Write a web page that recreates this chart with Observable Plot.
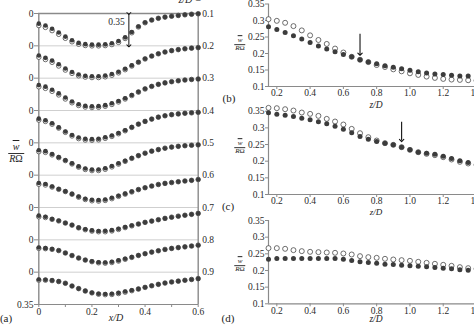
<!DOCTYPE html>
<html><head><meta charset="utf-8">
<script src="https://cdn.jsdelivr.net/npm/d3@7"></script>
<script src="https://cdn.jsdelivr.net/npm/@observablehq/plot@0.6"></script>
<style>
body{margin:0;overflow:hidden;background:#fff;}
#root{position:relative;width:474px;height:325px;overflow:hidden;font-family:"Liberation Serif",serif;color:#222;background:#fff;}
.pane{position:absolute;}
.pane svg, .pane svg text{font-family:"Liberation Serif",serif !important;}
.t{position:absolute;transform:translate(-50%,-50%);white-space:nowrap;line-height:1;}
.frac{position:absolute;transform:translate(-50%,-50%);text-align:center;line-height:1.05;}
.frac .num{font-style:italic;text-decoration:overline;}
.frac .den{border-top:0.8px solid #333;padding:0 1px;}
</style></head><body><div id="root"></div>
<script>
// ---------- Panel (a) data ----------
const aX = [0,0.025,0.05,0.075,0.1,0.125,0.15,0.175,0.2,0.225,0.25,0.275,0.3,0.325,0.35,0.375,0.4,0.425,0.45,0.475,0.5,0.525,0.55,0.575,0.6];
const aSpacing = 0.35;
const zLabels = ["0.1","0.2","0.3","0.4","0.5","0.6","0.7","0.8","0.9"];
const aYTickLabels = ["0","0","0","0","0","0","0","0","0","0.35"];
const aXTicks = [0,0.1,0.2,0.3,0.4,0.5,0.6];
const aXTickLabels = ["0","","0.2","","0.4","","0.6"];

const p1S = [0.11,0.13,0.165,0.205,0.25,0.29,0.318,0.332,0.337,0.337,0.334,0.322,0.297,0.258,0.2,0.14,0.098,0.07,0.052,0.039,0.029,0.021,0.014,0.008,0.003];
const p1O = [0.13,0.15,0.185,0.225,0.268,0.306,0.332,0.346,0.35,0.35,0.347,0.336,0.312,0.27,0.208,0.145,0.1,0.071,0.052,0.039,0.029,0.021,0.014,0.008,0.003];
const p2S = [0.105,0.13,0.16,0.2,0.245,0.283,0.31,0.325,0.33,0.33,0.322,0.305,0.28,0.248,0.212,0.175,0.14,0.11,0.086,0.067,0.052,0.041,0.032,0.025,0.019];
const p2O = [0.123,0.148,0.178,0.218,0.262,0.298,0.324,0.338,0.343,0.343,0.335,0.318,0.292,0.258,0.218,0.178,0.142,0.111,0.086,0.067,0.052,0.041,0.032,0.025,0.019];
const p3S = [0.075,0.092,0.125,0.165,0.21,0.253,0.283,0.3,0.305,0.303,0.292,0.272,0.247,0.217,0.183,0.148,0.115,0.088,0.067,0.051,0.038,0.028,0.02,0.014,0.009];
const p3O = [0.093,0.11,0.142,0.181,0.225,0.266,0.295,0.312,0.317,0.315,0.304,0.284,0.257,0.225,0.188,0.151,0.117,0.089,0.067,0.051,0.038,0.028,0.02,0.014,0.009];
const p4S = [0.088,0.105,0.138,0.183,0.228,0.265,0.293,0.307,0.31,0.305,0.29,0.27,0.243,0.213,0.18,0.147,0.118,0.093,0.072,0.057,0.045,0.037,0.03,0.025,0.02];
const p4O = [0.103,0.118,0.148,0.19,0.236,0.275,0.304,0.319,0.322,0.317,0.301,0.28,0.251,0.219,0.183,0.148,0.118,0.093,0.072,0.057,0.045,0.037,0.03,0.025,0.02];
const p5S = [0.08,0.09,0.122,0.155,0.188,0.222,0.255,0.278,0.29,0.288,0.275,0.25,0.222,0.195,0.165,0.138,0.112,0.09,0.073,0.058,0.046,0.038,0.031,0.026,0.022];
const p5O = [0.095,0.103,0.13,0.16,0.192,0.228,0.263,0.288,0.3,0.299,0.286,0.26,0.23,0.2,0.168,0.139,0.112,0.09,0.073,0.058,0.046,0.038,0.031,0.026,0.022];
const p6S = [0.085,0.095,0.122,0.15,0.175,0.203,0.232,0.255,0.267,0.27,0.263,0.245,0.222,0.2,0.178,0.155,0.136,0.118,0.101,0.089,0.08,0.071,0.063,0.056,0.047];
const p6O = [0.098,0.106,0.128,0.153,0.177,0.206,0.238,0.263,0.277,0.28,0.273,0.254,0.229,0.205,0.181,0.156,0.136,0.118,0.101,0.089,0.08,0.071,0.063,0.056,0.047];
const p7S = [0.088,0.1,0.124,0.143,0.167,0.19,0.218,0.236,0.248,0.254,0.253,0.245,0.23,0.212,0.195,0.178,0.161,0.147,0.132,0.118,0.105,0.094,0.084,0.074,0.064];
const p7O = [0.1,0.108,0.128,0.145,0.168,0.191,0.22,0.24,0.255,0.262,0.262,0.253,0.237,0.217,0.198,0.179,0.161,0.147,0.132,0.118,0.105,0.094,0.084,0.074,0.064];
const p8S = [0.083,0.09,0.1,0.115,0.142,0.17,0.197,0.218,0.233,0.243,0.245,0.237,0.222,0.205,0.187,0.168,0.15,0.133,0.118,0.104,0.093,0.084,0.076,0.067,0.058];
const p8O = [0.092,0.095,0.103,0.116,0.142,0.17,0.197,0.219,0.236,0.248,0.252,0.245,0.229,0.21,0.19,0.169,0.15,0.133,0.118,0.104,0.093,0.084,0.076,0.067,0.058];
const p9S = [0.079,0.082,0.089,0.1,0.12,0.15,0.178,0.203,0.222,0.234,0.237,0.234,0.224,0.21,0.196,0.181,0.164,0.147,0.132,0.118,0.106,0.097,0.088,0.079,0.07];
const p9O = [0.086,0.086,0.091,0.101,0.12,0.15,0.178,0.204,0.224,0.238,0.243,0.241,0.231,0.216,0.2,0.183,0.165,0.147,0.132,0.118,0.106,0.097,0.088,0.079,0.07];

const aSpanNote = [{x:0.339, y1:0, y2:0.35, label:"0.35", ly:0.094}];

// ---------- Panels (b)-(d) data ----------
const zX = [0.15,0.2,0.25,0.3,0.35,0.4,0.45,0.5,0.55,0.6,0.65,0.7,0.75,0.8,0.85,0.9,0.95,1.0,1.05,1.1,1.15,1.2,1.25,1.3,1.35,1.4];
const zXTicks = [0.2,0.4,0.6,0.8,1.0,1.2,1.4];
const zXTickLabels = ["0.2","0.4","0.6","0.8","1.0","1.2","1.4"];
const zYTicks = [0.1,0.15,0.2,0.25,0.3,0.35];
const zYTickLabels = ["0.1","0.15","0.2","0.25","0.3","0.35"];

const bS = [0.281,0.273,0.264,0.254,0.244,0.233,0.223,0.214,0.205,0.197,0.19,0.181,0.174,0.169,0.163,0.158,0.154,0.149,0.145,0.141,0.138,0.136,0.134,0.132,0.132,0.131];
const bO = [0.304,0.299,0.293,0.283,0.27,0.255,0.241,0.229,0.215,0.203,0.19,0.181,0.174,0.165,0.159,0.152,0.146,0.14,0.135,0.13,0.126,0.123,0.121,0.12,0.119,0.118];
const cS = [0.345,0.341,0.338,0.334,0.329,0.324,0.318,0.312,0.305,0.296,0.285,0.274,0.266,0.259,0.254,0.249,0.242,0.234,0.227,0.224,0.221,0.215,0.208,0.201,0.196,0.192];
const cO = [0.36,0.359,0.356,0.352,0.346,0.342,0.336,0.327,0.319,0.31,0.297,0.284,0.272,0.262,0.254,0.249,0.242,0.234,0.227,0.222,0.218,0.212,0.205,0.198,0.193,0.189];
const dS = [0.234,0.236,0.236,0.236,0.236,0.236,0.236,0.236,0.236,0.234,0.23,0.226,0.224,0.222,0.219,0.218,0.216,0.214,0.213,0.211,0.209,0.207,0.205,0.202,0.201,0.199];
const dO = [0.267,0.267,0.265,0.261,0.258,0.256,0.255,0.254,0.253,0.251,0.248,0.243,0.24,0.238,0.235,0.233,0.231,0.229,0.226,0.223,0.22,0.217,0.214,0.21,0.207,0.205];

const bArrow = [{x:0.7, y1:0.26, y2:0.198}];
const cArrow = [{x:0.95, y1:0.318, y2:0.262}];

// ---------- build ----------
const root = document.getElementById("root");
const SOLID = "#3c3c3c", OPENSTROKE = "#4a4a4a", AXIS = "#8a8a8a", TXT = "#2a2a2a";
const FONT = '"Liberation Serif", serif';
const STYLE = 'font-family: "Liberation Serif", serif; font-size: 9.5px; background: transparent; overflow: visible; color: #2a2a2a;';

function pane(left, top, w, h, node) {
  const d = document.createElement("div");
  d.className = "pane";
  d.style.left = left + "px"; d.style.top = top + "px";
  d.style.width = w + "px"; d.style.height = h + "px";
  d.appendChild(node);
  root.appendChild(d);
}
function label(text, x, y, size, italic) {
  const d = document.createElement("div");
  d.className = "t";
  d.style.left = x + "px"; d.style.top = y + "px";
  d.style.fontSize = size + "px";
  if (italic) d.style.fontStyle = "italic";
  d.textContent = text;
  root.appendChild(d);
}
function frac(x, y, size) {
  const d = document.createElement("div");
  d.className = "frac";
  d.style.left = x + "px"; d.style.top = y + "px";
  d.style.fontSize = size + "px";
  const n = document.createElement("div"); n.className = "num"; n.textContent = "w";
  const m = document.createElement("div"); m.className = "den";
  const r = document.createElement("i"); r.textContent = "R";
  const o = document.createElement("span"); o.textContent = "Ω";
  m.appendChild(r); m.appendChild(o);
  d.appendChild(n); d.appendChild(m);
  root.appendChild(d);
}

// Panel (a)
const profilesS = [p1S,p2S,p3S,p4S,p5S,p6S,p7S,p8S,p9S];
const profilesO = [p1O,p2O,p3O,p4O,p5O,p6O,p7O,p8O,p9O];
const aSolidRows = [], aOpenRows = [];
profilesS.forEach((arr,k) => arr.forEach((v,i) => aSolidRows.push({x:aX[i], y:k*aSpacing + v})));
profilesO.forEach((arr,k) => arr.forEach((v,i) => aOpenRows.push({x:aX[i], y:k*aSpacing + v})));
const aLevels = zLabels.map((l,k) => ({y:k*aSpacing, label:l}));
const aTicks = aYTickLabels.map((l,k) => k*aSpacing);
const aBottom = aTicks[aTicks.length-1];

const plotA = Plot.plot({
  width: 240, height: 325,
  marginLeft: 38, marginRight: 42, marginTop: 13, marginBottom: 21,
  x: {domain: [0, 0.6], range: [38.3, 197.7]},
  y: {domain: [0, aBottom], range: [13, 304]},
  style: STYLE,
  marks: [
    Plot.ruleY(aLevels.slice(1), {y: "y", stroke: "#cfcfcf", strokeWidth: 1}),
    Plot.ruleY([0], {stroke: AXIS, strokeWidth: 1.4}),
    Plot.ruleY([aBottom], {stroke: AXIS, strokeWidth: 1.2}),
    Plot.ruleX([0, 0.6], {stroke: AXIS, strokeWidth: 1.4}),
    Plot.axisY({ticks: aTicks, tickFormat: d => aYTickLabels[Math.round(d / aSpacing)], tickSize: 4, tickPadding: 1, label: null, stroke: AXIS, fontFamily: FONT}),
    Plot.axisX({ticks: aXTicks, tickFormat: d => aXTickLabels[Math.round(d * 10)], tickSize: 3, tickPadding: 1, label: null, stroke: AXIS, fontFamily: FONT}),
    Plot.dot(aOpenRows, {x: "x", y: "y", r: 2.3, fill: "white", stroke: OPENSTROKE, strokeWidth: 0.8}),
    Plot.dot(aSolidRows, {x: "x", y: "y", r: 2.3, fill: SOLID}),
    Plot.text(aLevels, {x: () => 0.6, y: "y", text: "label", dx: 4, textAnchor: "start", fill: TXT, fontFamily: FONT}),
    Plot.link(aSpanNote, {x1: "x", x2: "x", y1: "y1", y2: "y2", stroke: "#111", strokeWidth: 1, markerStart: "arrow", markerEnd: "arrow"}),
    Plot.text(aSpanNote, {x: "x", y: "ly", text: "label", dx: -4, textAnchor: "end", fill: TXT, fontFamily: FONT})
  ]
});
pane(0, 0, 240, 325, plotA);

// Panels (b)-(d)
function sidePlot(solid, open, arrow, height, yTop, yBot) {
  const sRows = solid.map((v,i) => ({x: zX[i], y: v}));
  const oRows = open.map((v,i) => ({x: zX[i], y: v}));
  const marks = [
    Plot.ruleX([0.15], {y1: 0.1, y2: 0.35, stroke: AXIS, strokeWidth: 1.2}),
    Plot.ruleY([0.1], {x1: 0.15, x2: 1.4, stroke: AXIS, strokeWidth: 1.2}),
    Plot.axisY({ticks: zYTicks, tickFormat: d => zYTickLabels[Math.round((d - 0.1) * 20)], tickSize: 3, tickPadding: 1, label: null, stroke: AXIS, fontFamily: FONT}),
    Plot.axisX({ticks: zXTicks, tickFormat: d => zXTickLabels[Math.round((d - 0.2) * 5)], tickSize: 3, tickPadding: 0, label: null, stroke: AXIS, fontFamily: FONT}),
    Plot.dot(oRows, {x: "x", y: "y", r: 2.5, fill: "white", stroke: OPENSTROKE, strokeWidth: 0.8}),
    Plot.dot(sRows, {x: "x", y: "y", r: 2.5, fill: SOLID})
  ];
  if (arrow) marks.push(Plot.link(arrow, {x1: "x", x2: "x", y1: "y1", y2: "y2", stroke: "#111", strokeWidth: 1.1, markerEnd: "arrow"}));
  return Plot.plot({
    width: 246, height: height,
    marginLeft: 38, marginRight: 0, marginTop: yTop, marginBottom: height - yBot,
    x: {domain: [0.15, 1.4], range: [38, 246]},
    y: {domain: [0.1, 0.35], range: [yBot, yTop]},
    style: STYLE,
    marks
  });
}
pane(230, 0, 246, 110, sidePlot(bS, bO, bArrow, 110, 3.5, 86));
pane(230, 104, 246, 110, sidePlot(cS, cO, cArrow, 110, 6.7, 90));
pane(230, 214, 246, 111, sidePlot(dS, dO, null, 111, 6, 89.3));

// Labels
label("z/D =", 190, 0, 10, true);
label("x/D", 116, 318, 10, true);
label("z/D", 376, 106, 9.5, true);
label("z/D", 376, 211.5, 9, true);
label("z/D", 376, 320, 9.5, true);
label("(a)", 6, 318, 11, false);
label("(b)", 229, 98, 11, false);
label("(c)", 228, 206, 11, false);
label("(d)", 228, 318, 11, false);
frac(16, 153, 10);
frac(240, 45, 7);
frac(240, 148, 7);
frac(240, 266, 7);
</script></body></html>
